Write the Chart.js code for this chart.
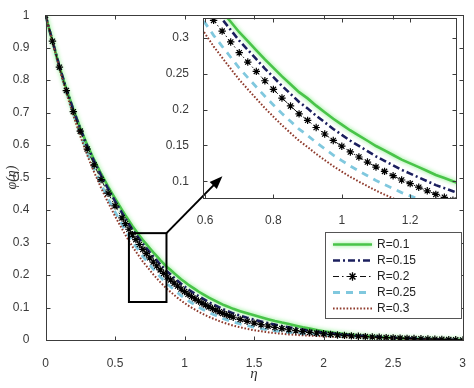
<!DOCTYPE html>
<html><head><meta charset="utf-8">
<script src="https://cdn.jsdelivr.net/npm/chart.js@4.4.0/dist/chart.umd.min.js"></script>
<style>
html,body{margin:0;padding:0;background:#fff;}
#wrap{position:relative;width:474px;height:388px;overflow:hidden;background:#fff;}
#main{position:absolute;left:0;top:0;width:474px;height:388px;}
#inset{position:absolute;left:150px;top:5px;width:315px;height:225px;}
</style></head><body>
<div id="wrap"><canvas id="main" width="474" height="388"></canvas><canvas id="inset" width="315" height="225"></canvas></div>
<script>
// ---- data ----
const eta = [0,0.05,0.1,0.15,0.2,0.25,0.3,0.35,0.4,0.45,0.5,0.55,
 0.575,0.6,0.625,0.65,0.675,0.7,0.725,0.75,0.775,0.8,0.825,0.85,0.875,0.9,0.925,0.95,0.975,1,1.025,1.05,1.075,1.1,1.125,1.15,1.175,1.2,1.225,1.25,1.275,1.3,1.325,1.35,
 1.4,1.45,1.5,1.55,1.6,1.65,1.7,1.75,1.8,1.85,1.9,1.95,2,2.05,2.1,2.15,2.2,2.25,2.3,2.35,2.4,2.45,2.5,2.55,2.6,2.65,2.7,2.75,2.8,2.85,2.9,2.95,3];

const phiR010 = [1,0.921,0.8425,0.7727,0.7103,0.653,0.6007,0.5544,0.5119,0.4724,0.4356,0.4005,
 0.3833,0.3671,0.3508,0.3364,0.322,0.3075,0.295,0.2824,0.2697,0.2579,0.2461,0.2352,0.2242,0.2155,0.2054,0.1963,0.1872,0.1791,0.1709,0.1638,0.1566,0.1493,0.1431,0.1368,0.1304,0.1252,0.1199,0.1145,0.109,0.1047,0.1003,0.0959,
 0.0888,0.0822,0.076,0.0703,0.0642,0.0586,0.0536,0.0491,0.044,0.039,0.035,0.031,0.027,0.024,0.021,0.018,0.016,0.014,0.012,0.0105,0.009,0.0078,0.0067,0.0057,0.0048,0.004,0.0033,0.0026,0.002,0.0014,0.0009,0.0004,0];

const phiR015 = [1,0.9209,0.8425,0.7723,0.7091,0.6508,0.5975,0.55,0.5065,0.4657,0.4277,0.3915,
 0.3738,0.3571,0.3403,0.3256,0.3107,0.2958,0.283,0.27,0.257,0.245,0.2329,0.2218,0.2106,0.2016,0.1914,0.1823,0.173,0.1648,0.1566,0.1494,0.1422,0.1349,0.1287,0.1224,0.1161,0.1109,0.1056,0.1003,0.0949,0.0907,0.0864,0.0821,
 0.0752,0.0687,0.0628,0.0572,0.052,0.0473,0.0431,0.039,0.0353,0.0317,0.0285,0.0255,0.0229,0.0206,0.0183,0.0164,0.0147,0.0131,0.0118,0.0104,0.0092,0.0081,0.0072,0.0063,0.0055,0.0047,0.0039,0.0032,0.0025,0.0018,0.0012,0.0006,0];

const phiR020 = [1,0.92,0.84,0.768,0.703,0.643,0.588,0.539,0.494,0.452,0.413,0.376,
 0.358,0.341,0.324,0.309,0.294,0.279,0.266,0.253,0.24,0.228,0.216,0.205,0.194,0.185,0.175,0.166,0.157,0.149,0.141,0.134,0.127,0.12,0.114,0.108,0.102,0.097,0.092,0.087,0.082,0.078,0.074,0.07,
 0.0635,0.0575,0.052,0.0471,0.0426,0.0385,0.0349,0.0316,0.0286,0.0258,0.0234,0.0211,0.0191,0.0173,0.0156,0.0141,0.0128,0.0115,0.0104,0.0093,0.0083,0.0074,0.0066,0.0058,0.0051,0.0044,0.0037,0.0031,0.0024,0.0018,0.0012,0.0006,0];

const phiR025 = [1,0.9191,0.8373,0.7632,0.6959,0.6337,0.5765,0.5254,0.4785,0.4349,0.3945,0.3563,
 0.3379,0.3205,0.3032,0.2879,0.2727,0.2576,0.2444,0.2313,0.2184,0.2064,0.1945,0.1836,0.1728,0.1639,0.1542,0.1454,0.1367,0.129,0.1214,0.1146,0.108,0.1014,0.0957,0.0901,0.0845,0.0799,0.0752,0.0707,0.0661,0.0625,0.0589,0.0553,
 0.0494,0.0441,0.0393,0.0352,0.0316,0.0282,0.0256,0.0232,0.021,0.0191,0.0175,0.016,0.0146,0.0133,0.0122,0.0111,0.0102,0.0092,0.0084,0.0076,0.0069,0.0062,0.0056,0.005,0.0044,0.0039,0.0033,0.0028,0.0022,0.0017,0.0012,0.0006,0];

const phiR030 = [1,0.9187,0.8361,0.7607,0.6919,0.6281,0.5692,0.5165,0.4681,0.423,0.3814,0.3422,
 0.3233,0.3055,0.2879,0.2722,0.2568,0.2415,0.2282,0.215,0.202,0.19,0.1782,0.1674,0.1567,0.1478,0.1383,0.1297,0.1213,0.1137,0.1064,0.0998,0.0935,0.0872,0.0818,0.0765,0.0713,0.0669,0.0626,0.0583,0.0542,0.0508,0.0475,0.0443,
 0.039,0.0342,0.03,0.0267,0.0239,0.0213,0.0192,0.0173,0.0158,0.0144,0.0134,0.0123,0.0114,0.0105,0.0097,0.0089,0.0082,0.0076,0.007,0.0064,0.0058,0.0053,0.0048,0.0044,0.0039,0.0035,0.003,0.0026,0.0021,0.0016,0.0011,0.0006,0];

const seriesNames = ['R=0.1','R=0.15','R=0.2','R=0.25','R=0.3'];
const xTicks = [0,0.5,1,1.5,2,2.5,3];
const xTickLabels = ['0','0.5','1','1.5','2','2.5','3'];
const yTicks = [0,0.1,0.2,0.3,0.4,0.5,0.6,0.7,0.8,0.9,1];
const yTickLabels = ['0','0.1','0.2','0.3','0.4','0.5','0.6','0.7','0.8','0.9','1'];
const insetXTicks = [0.6,0.8,1,1.2];
const insetXTickLabels = ['0.6','0.8','1','1.2'];
const insetYTicks = [0.1,0.15,0.2,0.25,0.3];
const insetYTickLabels = ['0.1','0.15','0.2','0.25','0.3'];
const insetXRange = [0.594, 1.334];
const insetYRange = [0.077, 0.327];
const zoomBox = [0.6, 0.87, 0.117, 0.329];   // eta0, eta1, phi0, phi1
const arrowTip = [1.272, 0.504];             // in main-axes data units

// ---- styles ----
const AX = '#3c3c3c';
const styles = [
  {borderColor:'#49c449', borderWidth:2.6, borderDash:[], pointRadius:0, order:3},
  {borderColor:'#1b1f5e', borderWidth:2.6, borderDash:[7,3,2,3], pointRadius:0, order:2},
  {borderColor:'#111111', borderWidth:1, borderDash:[6,3,1.5,3], pointRadius:3.7, pointStyle:'star',
   pointBorderColor:'#000', pointBackgroundColor:'#000', pointBorderWidth:1.2, order:0},
  {borderColor:'#80c8de', borderWidth:2.8, borderDash:[7,6], pointRadius:0, order:4},
  {borderColor:'#8e3a2c', borderWidth:2, borderDash:[1.6,1.8], pointRadius:0, order:1}
];
const allSeries = [phiR010, phiR015, phiR020, phiR025, phiR030];

function makeDatasets(clip){
  return allSeries.map((arr,i)=>Object.assign({
    label: seriesNames[i],
    data: eta.map((x,j)=>({x:x, y:arr[j]})),
    fill:false, tension:0, pointHoverRadius:0, clip:clip
  }, styles[i]));
}

Chart.defaults.font.family = '"Liberation Sans", Arial, sans-serif';
Chart.defaults.font.size = 12;
Chart.defaults.color = '#3a3a3a';

const glow = {
  id:'glow',
  beforeDatasetDraw(chart, args){
    if (args.index===0){ chart.ctx.save(); chart.ctx.shadowColor='rgba(110,235,110,0.9)'; chart.ctx.shadowBlur=4; }
  },
  afterDatasetDraw(chart, args){ if (args.index===0) chart.ctx.restore(); }
};

function frameAndTicks(chart, xt, yt, len){
  const {ctx, chartArea:a, scales:{x,y}} = chart;
  ctx.save();
  ctx.strokeStyle = AX; ctx.lineWidth = 1; ctx.setLineDash([]);
  const L = Math.round(a.left)+0.5, R = Math.round(a.right)+0.5, T = Math.round(a.top)+0.5, B = Math.round(a.bottom)+0.5;
  ctx.strokeRect(L, T, R-L, B-T);
  ctx.beginPath();
  xt.forEach(v=>{ const p = Math.round(x.getPixelForValue(v))+0.5;
    ctx.moveTo(p,B); ctx.lineTo(p,B-len); ctx.moveTo(p,T); ctx.lineTo(p,T+len); });
  yt.forEach(v=>{ const p = Math.round(y.getPixelForValue(v))+0.5;
    ctx.moveTo(L,p); ctx.lineTo(L+len,p); ctx.moveTo(R,p); ctx.lineTo(R-len,p); });
  ctx.stroke();
  ctx.restore();
}

const mainDecor = {
  id:'mainDecor',
  afterDraw(chart){
    frameAndTicks(chart, xTicks, yTicks, 4);
    const {ctx, scales:{x,y}} = chart;
    ctx.save();
    // zoom box
    ctx.strokeStyle='#000'; ctx.lineWidth=2; ctx.setLineDash([]);
    const bx0=x.getPixelForValue(zoomBox[0]), bx1=x.getPixelForValue(zoomBox[1]);
    const by0=y.getPixelForValue(zoomBox[2]), by1=y.getPixelForValue(zoomBox[3]);
    ctx.strokeRect(bx0, by1, bx1-bx0, by0-by1);
    // arrow
    const tx=x.getPixelForValue(arrowTip[0]), ty=y.getPixelForValue(arrowTip[1]);
    const ang=Math.atan2(ty-by1, tx-bx1), hl=13, hw=5;
    const baseX=tx-hl*Math.cos(ang), baseY=ty-hl*Math.sin(ang);
    ctx.beginPath(); ctx.moveTo(bx1,by1); ctx.lineTo(baseX+2*Math.cos(ang),baseY+2*Math.sin(ang)); ctx.stroke();
    ctx.beginPath(); ctx.fillStyle='#000';
    ctx.moveTo(tx,ty);
    ctx.lineTo(baseX - hw*Math.sin(ang), baseY + hw*Math.cos(ang));
    ctx.lineTo(baseX + hw*Math.sin(ang), baseY - hw*Math.cos(ang));
    ctx.closePath(); ctx.fill();
    // legend
    const lx=325.5, ly=232.5, lw=136, lh=86;
    ctx.fillStyle='#fff'; ctx.fillRect(lx,ly,lw,lh);
    ctx.strokeStyle='#555'; ctx.lineWidth=1; ctx.strokeRect(lx,ly,lw,lh);
    const rows=[244.5,260.5,276.5,292.5,308.5];
    chart.data.datasets.forEach((ds,i)=>{
      const yy=rows[i];
      ctx.save();
      ctx.strokeStyle=ds.borderColor; ctx.lineWidth=ds.borderWidth; ctx.setLineDash(ds.borderDash||[]);
      if(i===0){ctx.shadowColor='rgba(110,235,110,0.9)'; ctx.shadowBlur=4;}
      ctx.beginPath(); ctx.moveTo(333,yy); ctx.lineTo(372,yy); ctx.stroke();
      ctx.restore();
      if(ds.pointRadius>0){
        ctx.save(); ctx.strokeStyle='#000'; ctx.lineWidth=1.2;
        Chart.helpers.drawPoint(ctx,{pointStyle:'star', radius:4, borderWidth:1.2, rotation:0}, 352.5, yy);
        ctx.stroke(); ctx.restore();
      }
      ctx.fillStyle='#222'; ctx.font='12px "Liberation Sans", Arial, sans-serif';
      ctx.textBaseline='middle'; ctx.textAlign='left';
      ctx.fillText(ds.label, 377, yy+0.5);
    });
    ctx.restore();
  }
};

const insetDecor = {
  id:'insetDecor',
  afterDraw(chart){ frameAndTicks(chart, insetXTicks, insetYTicks, 4); }
};

new Chart(document.getElementById('main'), {
  type:'line',
  data:{datasets: makeDatasets(undefined)},
  options:{
    responsive:false, animation:false, devicePixelRatio:1,
    layout:{padding:{left:0,right:10,top:8,bottom:0}},
    plugins:{legend:{display:false}, tooltip:{enabled:false}},
    events:[],
    scales:{
      x:{type:'linear', min:0, max:3,
        afterBuildTicks:s=>{s.ticks=xTicks.map(v=>({value:v}));},
        afterFit:s=>{s.height=48;},
        ticks:{padding:8, maxRotation:0, autoSkip:false, callback:(v,i)=>xTickLabels[i]},
        grid:{display:false}, border:{display:false},
        title:{display:true, text:'η', font:{family:'"Liberation Serif", serif', style:'italic', size:15}, padding:{top:0,bottom:5}, color:'#333'}
      },
      y:{type:'linear', min:0, max:1,
        afterBuildTicks:s=>{s.ticks=yTicks.map(v=>({value:v}));},
        afterFit:s=>{s.width=45.5;},
        ticks:{padding:8, autoSkip:false, callback:(v,i)=>yTickLabels[i]},
        grid:{display:false}, border:{display:false},
        title:{display:true, text:'φ(η)', font:{family:'"Liberation Serif", serif', style:'italic', size:14}, padding:{top:4,bottom:0}, color:'#333'}
      }
    }
  },
  plugins:[glow, mainDecor]
});

new Chart(document.getElementById('inset'), {
  type:'line',
  data:{datasets: makeDatasets(0)},
  options:{
    responsive:false, animation:false, devicePixelRatio:1,
    layout:{padding:{left:0,right:9,top:10,bottom:0}},
    plugins:{legend:{display:false}, tooltip:{enabled:false}},
    events:[],
    scales:{
      x:{type:'linear', min:insetXRange[0], max:insetXRange[1],
        afterBuildTicks:s=>{s.ticks=insetXTicks.map(v=>({value:v}));},
        afterFit:s=>{s.height=32;},
        ticks:{padding:7, maxRotation:0, autoSkip:false, callback:(v,i)=>insetXTickLabels[i]},
        grid:{display:false}, border:{display:false}
      },
      y:{type:'linear', min:insetYRange[0], max:insetYRange[1],
        afterBuildTicks:s=>{s.ticks=insetYTicks.map(v=>({value:v}));},
        afterFit:s=>{s.width=53;},
        ticks:{padding:6, autoSkip:false, callback:(v,i)=>insetYTickLabels[i]},
        grid:{display:false}, border:{display:false}
      }
    }
  },
  plugins:[glow, insetDecor]
});
</script>
</body></html>
